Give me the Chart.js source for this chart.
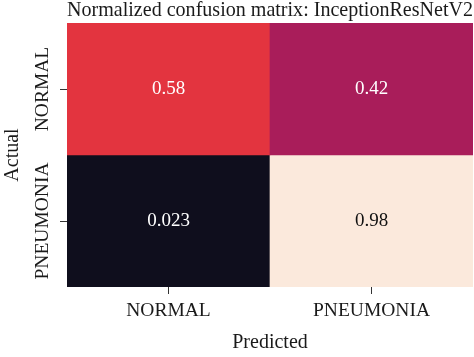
<!DOCTYPE html>
<html><head><meta charset="utf-8">
<script src="https://cdn.jsdelivr.net/npm/chart.js@4/dist/chart.umd.min.js"></script>
<style>html,body{margin:0;padding:0;background:#fff}#wrap{width:474px;height:357px}</style>
</head><body><div id="wrap"><canvas id="c" width="474" height="357"></canvas></div>
<script>
const predictedLabels = ["NORMAL", "PNEUMONIA"];
const actualLabels = ["NORMAL", "PNEUMONIA"];
const rowNormal = [0.58, 0.42];
const rowPneumonia = [0.023, 0.98];
const rowNormalColors = ["#e3343f", "#a91d5a"];
const rowPneumoniaColors = ["#0f0e1d", "#fbe9dc"];
const rowNormalText = ["#ffffff", "#ffffff"];
const rowPneumoniaText = ["#ffffff", "#111111"];
const titleText = "Normalized confusion matrix: InceptionResNetV2";

const FONT = "'Liberation Serif', 'DejaVu Serif', serif";
const TICK_SIZE = 19.5;
const rows = [rowNormal, rowPneumonia];
const rowColors = [rowNormalColors, rowPneumoniaColors];
const rowText = [rowNormalText, rowPneumoniaText];

// layout targets
const PLOT_LEFT = 67, PLOT_TOP = 23, PLOT_BOTTOM = 287, TICK_LEN = 7, YLABEL_X = 43;

const mctx = document.createElement('canvas').getContext('2d');
mctx.font = "normal " + TICK_SIZE + "px " + FONT;
const widestY = Math.max(...actualLabels.map(s => mctx.measureText(s).width));
const yTickPad = PLOT_LEFT - TICK_LEN - YLABEL_X - widestY / 2;

const datasets = rows.map((vals, r) => ({
  label: actualLabels[r],
  data: vals.map(() => [r, r + 1]),
  values: vals,
  textColors: rowText[r],
  backgroundColor: rowColors[r],
  borderWidth: 0,
  grouped: false,
  categoryPercentage: 1,
  barPercentage: 1
}));

const cellText = {
  id: 'cellText',
  afterDatasetsDraw(chart) {
    const ctx = chart.ctx;
    ctx.save();
    ctx.font = "19px " + FONT;
    ctx.textAlign = 'center';
    ctx.textBaseline = 'middle';
    chart.data.datasets.forEach((ds, i) => {
      const meta = chart.getDatasetMeta(i);
      meta.data.forEach((el, j) => {
        const p = el.getProps(['x', 'y', 'base'], true);
        ctx.fillStyle = ds.textColors[j];
        ctx.fillText(String(ds.values[j]), p.x, (p.y + p.base) / 2);
      });
    });
    ctx.restore();
  }
};

new Chart(document.getElementById('c'), {
  type: 'bar',
  data: { labels: predictedLabels, datasets },
  plugins: [cellText],
  options: {
    responsive: false,
    animation: false,
    layout: { padding: { left: 0, right: 1, top: 0, bottom: 0 } },
    plugins: {
      legend: { display: false },
      tooltip: { enabled: false },
      title: { display: false }
    },
    scales: {
      x: {
        offset: true,
        border: { display: false },
        grid: { display: true, offset: false, drawOnChartArea: false, drawTicks: true, tickLength: TICK_LEN, color: '#333' },
        ticks: { color: '#1a1a1a', font: { family: FONT, size: TICK_SIZE }, padding: 5 },
        title: { display: true, text: 'Predicted', color: '#1a1a1a', font: { family: FONT, size: 20 }, padding: { top: 0, bottom: 2 } },
        afterFit(s) { s.height = 357 - PLOT_BOTTOM; }
      },
      x2: {
        type: 'category',
        position: 'top',
        offset: true,
        border: { display: false },
        grid: { display: false, drawTicks: false },
        ticks: { display: false },
        title: { display: true, text: titleText, color: '#1a1a1a', font: { family: FONT, size: 21, lineHeight: 1 }, padding: { top: 0, bottom: 0 } },
        afterFit(s) { s.height = PLOT_TOP; }
      },
      y: {
        type: 'linear',
        min: 0, max: 2,
        reverse: true,
        border: { display: false },
        afterBuildTicks(scale) { scale.ticks = [{ value: 0.5 }, { value: 1.5 }]; },
        grid: { display: true, drawOnChartArea: false, drawTicks: true, tickLength: TICK_LEN, color: '#333' },
        ticks: {
          color: '#1a1a1a', font: { family: FONT, size: TICK_SIZE }, padding: yTickPad,
          minRotation: 90, maxRotation: 90, crossAlign: 'center',
          callback(v) { return v === 0.5 ? actualLabels[0] : (v === 1.5 ? actualLabels[1] : ''); }
        },
        title: { display: true, text: 'Actual', color: '#1a1a1a', font: { family: FONT, size: 20 }, padding: { top: 1, bottom: 0 } },
        afterFit(s) { s.width = PLOT_LEFT; }
      }
    }
  }
});
</script></body></html>
